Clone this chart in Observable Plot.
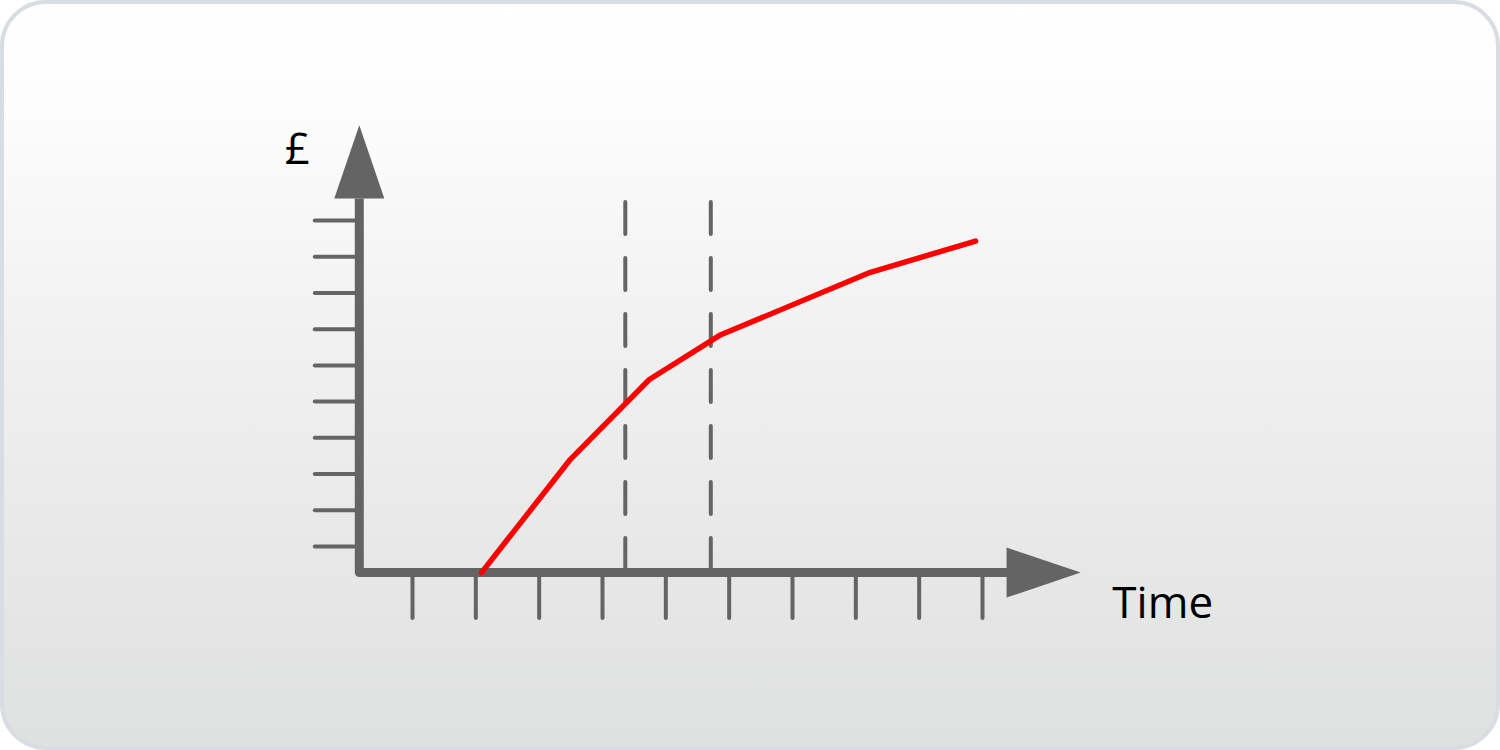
<!DOCTYPE html>
<html>
<head>
<meta charset="utf-8">
<script src="https://cdn.jsdelivr.net/npm/d3@7"></script>
<script src="https://cdn.jsdelivr.net/npm/@observablehq/plot@0.6"></script>
<style>
  html, body { margin: 0; padding: 0; width: 1500px; height: 750px; overflow: hidden; background: #ffffff; }
  #card {
    position: absolute; left: 0; top: 0; width: 1500px; height: 750px; box-sizing: border-box;
    border: 4px solid #dadce4; border-radius: 46px;
    background: linear-gradient(to bottom, #ffffff 0%, #fdfdfd 12%, #efefef 50%, #dfe0e0 100%);
  }
  #chart { position: absolute; left: 0; top: 0; }
</style>
</head>
<body>
<div id="card"></div>
<div id="chart"></div>
<script>
// Tick positions (schematic units)
const xTicks = [1, 2, 3, 4, 5, 6, 7, 8, 9, 10];
const yTicks = [1, 2, 3, 4, 5, 6, 7, 8, 9, 10];

// Axis origin and extents
const originX = 0.16;
const originY = 0.28;
const xAxisEnd = 10.38;   // base of the x arrow
const xArrowTip = 11.55;
const yAxisEnd = 10.61;   // base of the y arrow
const yArrowTip = 12.63;

// Red series
const times = [2.09, 3.49, 4.74, 5.85, 8.23, 9.89];
const values = [0.28, 3.40, 5.61, 6.83, 8.57, 9.43];

// Dashed markers
const markers = [4.36, 5.71];
const markerTop = 10.5;

// Labels
const yLabel = [{text: "£", x: -0.82, y: 11.94}];
const xLabel = [{text: "Time", x: 12.05, y: -0.58}];

const gray = "#646464";
const series = times.map((t, i) => ({t, v: values[i]}));

const axisPath = [
  {x: originX, y: yAxisEnd},
  {x: originX, y: originY},
  {x: xAxisEnd + 0.1, y: originY}
];
const yArrow = [
  {x: originX - 0.395, y: yAxisEnd},
  {x: originX, y: yArrowTip},
  {x: originX + 0.395, y: yAxisEnd}
];
const xArrow = [
  {x: xAxisEnd, y: originY + 0.69},
  {x: xArrowTip, y: originY},
  {x: xAxisEnd, y: originY - 0.69}
];
const yTickLen = 0.695;  // in x units
const xTickBottom = -0.99;

const plot = Plot.plot({
  width: 1500,
  height: 750,
  margin: 0,
  style: {background: "transparent", overflow: "visible"},
  x: {domain: [1, 10], range: [412, 982], axis: null},
  y: {domain: [1, 10], range: [546, 220], axis: null},
  marks: [
    Plot.ruleY(yTicks, {y: d => d, x1: originX - yTickLen, x2: originX, stroke: gray, strokeWidth: 4, strokeLinecap: "round"}),
    Plot.ruleX(xTicks, {x: d => d, y1: originY, y2: xTickBottom, stroke: gray, strokeWidth: 4, strokeLinecap: "round"}),
    Plot.ruleX(markers, {x: d => d, y1: markerTop, y2: originY, stroke: gray, strokeWidth: 4, strokeDasharray: "32,24", strokeLinecap: "round"}),
    Plot.line(axisPath, {x: "x", y: "y", stroke: gray, strokeWidth: 9, strokeLinejoin: "round", strokeLinecap: "butt"}),
    Plot.line(yArrow, {x: "x", y: "y", fill: gray, stroke: "none"}),
    Plot.line(xArrow, {x: "x", y: "y", fill: gray, stroke: "none"}),
    Plot.line(series, {x: "t", y: "v", stroke: "#ff0000", strokeWidth: 5.5, strokeLinecap: "round", strokeLinejoin: "round"}),
    Plot.text(yLabel, {x: "x", y: "y", text: "text", textAnchor: "middle", fontSize: 44, fontFamily: "Open Sans", fill: "#000000"}),
    Plot.text(xLabel, {x: "x", y: "y", text: "text", textAnchor: "start", fontSize: 44, fontFamily: "Open Sans", fill: "#000000"})
  ]
});
document.getElementById("chart").appendChild(plot);
</script>
</body>
</html>
